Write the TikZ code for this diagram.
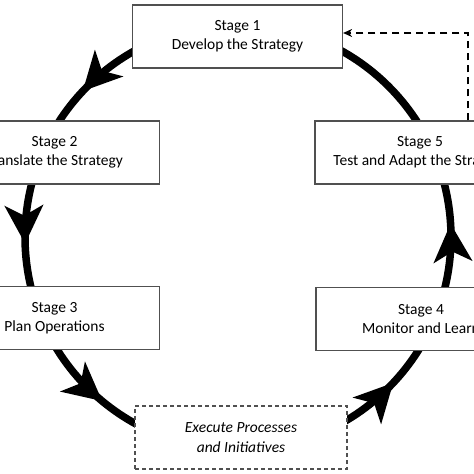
\documentclass[tikz,border=0pt]{standalone}
\usepackage{fontspec}
\setmainfont{Carlito}
\usetikzlibrary{arrows.meta,decorations.markings}
\definecolor{boxgray}{HTML}{505050}
\tikzset{
  stagebox/.style={draw=boxgray, line width=1.2pt, fill=white, minimum width=210pt, minimum height=63pt, align=center, inner sep=0pt, font=\fontsize{15.5}{19.5}\selectfont},
  execbox/.style={stagebox, dash pattern=on 4pt off 3pt, minimum width=212pt, font=\fontsize{15.5}{19.5}\selectfont\itshape},
  cyctip/.tip={Stealth[length=38pt,width=38pt,inset=10pt]},
  cyclearrow/.style={line width=7.5pt, postaction={decorate}, decoration={markings,
    mark=at position 0.13 with {\arrow{cyctip}},
    mark=at position 0.255 with {\arrow{cyctip}},
    mark=at position 0.39 with {\arrow{cyctip}},
    mark=at position 0.63 with {\arrow{cyctip}},
    mark=at position 0.76 with {\arrow{cyctip}}}},
  feedback/.style={line width=2pt, dash pattern=on 7pt off 5pt, -{Stealth[length=9pt,width=8pt]}}
}
\begin{document}
\begin{tikzpicture}[x=1pt,y=1pt]
\useasboundingbox (0,0) rectangle (474,-474);
\clip (0,0) rectangle (474,-474);
\fill[white] (0,0) rectangle (474,-474);
\coordinate (c) at (238,-237);
\draw[cyclearrow] (c) ++(0,213) arc[start angle=90, end angle=450, radius=213];
\node[stagebox] (s1) at (237.5,-36.5) {Stage 1\\Develop the Strategy};
\node[stagebox] (s2) at (54.5,-152.5) {Stage 2\\Translate the Strategy};
\node[stagebox] (s3) at (54.5,-318) {Stage 3\\Plan Operations};
\node[execbox] (ex) at (241,-437.5) {Execute Processes\\and Initiatives};
\node[stagebox] (s4) at (421,-319) {Stage 4\\Monitor and Learn};
\node[stagebox] (s5) at (420,-152.5) {Stage 5\\Test and Adapt the Strategy};
\coordinate (fb) at (468,-33);
\draw[feedback] (s5.north -| fb) -- (fb) -- (fb -| s1.east);
\end{tikzpicture}
\end{document}
